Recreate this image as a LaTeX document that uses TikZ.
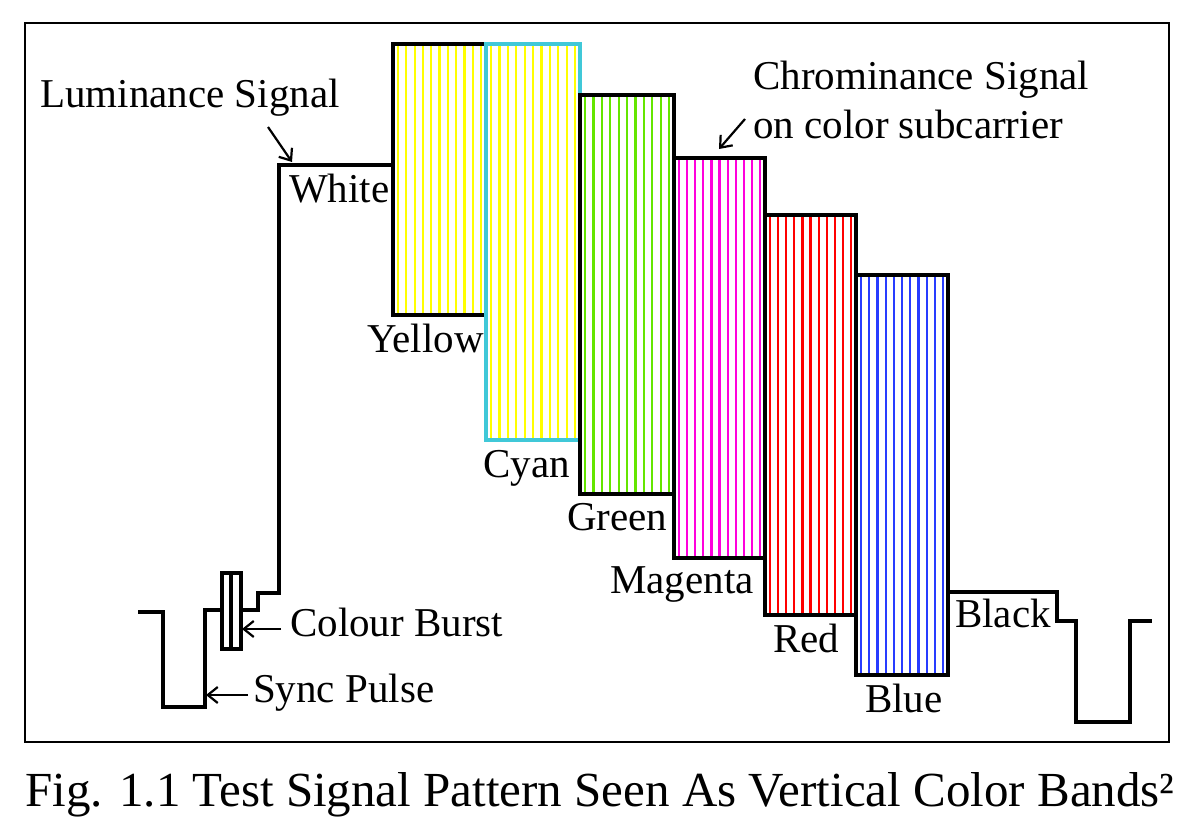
\documentclass[tikz,border=0pt]{standalone}
\usepackage{fontspec}
\setmainfont{Liberation Serif}
\usetikzlibrary{arrows.meta}
\definecolor{cyanb}{RGB}{64,200,216}
\definecolor{yelb}{RGB}{255,255,0}
\definecolor{greenb}{RGB}{100,230,0}
\definecolor{magb}{RGB}{255,0,220}
\definecolor{redb}{RGB}{255,0,0}
\definecolor{blueb}{RGB}{40,60,255}
\begin{document}
\begin{tikzpicture}[x=1pt,y=-1pt,
  wave/.style={line width=4.6pt, line join=miter},
  lbl/.style={anchor=base west, inner sep=0pt, font=\fontsize{41}{48}\selectfont},
  pointer/.style={line width=2.2pt, -{Straight Barb[length=10pt,width=16pt,line width=2.2pt]}},
  stripe/.style={line width=2.2pt}]
\useasboundingbox (0,0) rectangle (1204,832);
\fill[white] (0,0) rectangle (1204,832);
% frame
\draw[line width=2.4pt] (25,23) rectangle (1169,742);
% stripes
\foreach \L/\R/\T/\B/\c in {393/486/44/315/yelb, 486/580/44/440/yelb, 580/674/95/494/greenb, 674/765/158/558/magb, 765/856/215/615/redb, 856/948/275/675/blueb}{
  \foreach \k in {0,...,10}{
    \draw[stripe,\c] ({\L+5+\k*(\R-\L-10)/10},\T) -- ({\L+5+\k*(\R-\L-10)/10},\B);
  }
}
% waveform
\draw[wave] (138,612) -- (163,612) -- (163,707) -- (205,707) -- (205,610) -- (258,610) -- (258,593) -- (279,593) -- (279,165) -- (393,165);
\draw[wave,fill=white] (222,573) rectangle (241,649);
\draw[wave] (231,573) -- (231,649);
\draw[wave] (393,44) rectangle (486,315);
\draw[wave,cyanb] (486,44) rectangle (580,440);
\draw[wave] (580,95) rectangle (674,494);
\draw[wave] (674,158) rectangle (765,558);
\draw[wave] (765,215) rectangle (856,615);
\draw[wave] (856,275) rectangle (948,675);
\draw[wave] (948,592) -- (1057,592) -- (1057,621) -- (1076,621) -- (1076,722) -- (1130,722) -- (1130,621) -- (1152,621);
% labels
\node[lbl] (lum) at (40,108) {Luminance Signal};
\node[lbl] (chr1) at (753,90) {Chrominance Signal};
\node[lbl] (chr2) at (753,139) {on color subcarrier};
\node[lbl] (white) at (289,202) {White};
\node[lbl] (yellow) at (367,352) {Yellow};
\node[lbl] (cyan) at (483,477) {Cyan};
\node[lbl] (green) at (567,530) {Green};
\node[lbl] (magenta) at (610,593) {Magenta};
\node[lbl] (red) at (773,652) {Red};
\node[lbl] (blue) at (865,712) {Blue};
\node[lbl] (black) at (955,627) {Black};
\node[lbl] (burst) at (290,636) {Colour Burst};
\node[lbl] (sync) at (253,702) {Sync Pulse};
\node[anchor=base, inner sep=0pt, font=\fontsize{49}{58}\selectfont] (cap) at (600,806) {Fig. 1.1 Test Signal Pattern Seen As Vertical Color Bands²};
% pointers
\coordinate (lumtail) at (268,127);
\coordinate (lumtip) at (292,162);
\coordinate (chrtail) at (745,119);
\coordinate (chrtip) at (719,149);
\coordinate (bursttail) at (281,629);
\coordinate (bursttip) at (242,629);
\coordinate (synctail) at (248,695);
\coordinate (synctip) at (206,695);
\draw[pointer] (lumtail) -- (lumtip);
\draw[pointer] (chrtail) -- (chrtip);
\draw[pointer] (bursttail) -- (bursttip);
\draw[pointer] (synctail) -- (synctip);
\end{tikzpicture}
\end{document}
